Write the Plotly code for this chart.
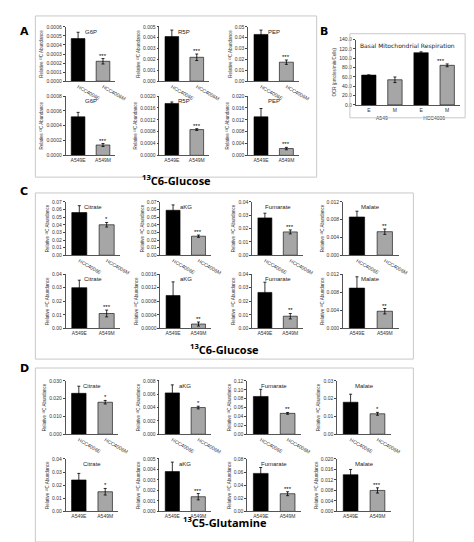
import plotly.graph_objects as go

W, H = 474, 542
cell_A549 = ["A549E", "A549M"]
cell_HCC = ["HCC4006E", "HCC4006M"]

# Panel A (13C6-Glucose)
A_names = ["G6P", "R5P", "PEP"]
A_hcc_vals = [[0.00047, 0.00022], [0.0041, 0.0022], [0.043, 0.0175]]
A_hcc_err = [[0.00007, 0.00003], [0.0006, 0.0003], [0.004, 0.002]]
A_a549_vals = [[0.00052, 0.00014], [0.00175, 0.00087], [0.013, 0.0023]]
A_a549_err = [[0.00006, 0.00002], [0.00005, 0.00003], [0.0028, 0.0004]]
A_hcc_sig = ["***", "***", "***"]
A_a549_sig = ["***", "***", "***"]

# Panel B
B_groups = ["A549", "A549", "HCC4006", "HCC4006"]
B_types = ["E", "M", "E", "M"]
B_vals = [64.0, 54.0, 112.0, 85.0]
B_err = [0.5, 6.0, 2.0, 3.0]
B_sig = ["", "", "", "***"]

# Panel C (13C6-Glucose) and D (13C5-Glutamine)
CD_names = ["Citrate", "aKG", "Fumarate", "Malate"]
C_hcc_vals = [[0.056, 0.040], [0.059, 0.025], [0.028, 0.0175], [0.0086, 0.0053]]
C_hcc_err = [[0.009, 0.003], [0.007, 0.0015], [0.0035, 0.0015], [0.0013, 0.0006]]
C_hcc_sig = ["*", "***", "***", "**"]
C_a549_vals = [[0.030, 0.011], [0.00097, 0.00013], [0.0265, 0.009], [0.0089, 0.0038]]
C_a549_err = [[0.0055, 0.0025], [0.0004, 0.00006], [0.0075, 0.002], [0.0025, 0.0006]]
C_a549_sig = ["***", "**", "**", "**"]
D_hcc_vals = [[0.023, 0.018], [0.0062, 0.0040], [0.085, 0.047], [0.018, 0.0115]]
D_hcc_err = [[0.004, 0.001], [0.0012, 0.0002], [0.016, 0.002], [0.0045, 0.0008]]
D_hcc_sig = ["*", "*", "**", "*"]
D_a549_vals = [[0.024, 0.015], [0.0038, 0.0014], [0.058, 0.027], [0.014, 0.008]]
D_a549_err = [[0.005, 0.0025], [0.0009, 0.0003], [0.009, 0.003], [0.002, 0.001]]
D_a549_sig = ["*", "***", "***", "***"]

fig = go.Figure()
layout = {}
annots = []
shapes = []
n = [0]
TF = dict(size=5, color="#333", family="Arial, Liberation Sans")
COLORS = ["black", "#a6a6a6"]


def px(x0, x1, y0, y1):
    return [x0 / W, x1 / W], [1 - y1 / H, 1 - y0 / H]


def add_panel(box, cats, vals, errs, title, ymax, dtick, fmt, sig, multicat=False, ytitle="Relative ¹³C Abundance"):
    n[0] += 1
    k = n[0]
    xs = "" if k == 1 else str(k)
    xd, yd = px(*box)
    fig.add_trace(go.Bar(
        x=cats, y=vals, width=0.55,
        marker=dict(color=COLORS * (len(vals) // 2), line=dict(color="black", width=0.6)),
        error_y=dict(type="data", array=errs, color="black", thickness=0.8, width=1.5),
        xaxis="x" + xs, yaxis="y" + xs, showlegend=False))
    layout["xaxis" + xs] = dict(domain=xd, anchor="y" + xs, showline=True, linecolor="#555", linewidth=0.8,
                                tickfont=TF, ticks="", showgrid=False, fixedrange=True)
    if multicat:
        layout["xaxis" + xs]["showdividers"] = False
    layout["yaxis" + xs] = dict(domain=yd, anchor="x" + xs, range=[0, ymax], dtick=dtick, tickformat=fmt,
                                showline=True, linecolor="#555", linewidth=0.8, ticks="outside", ticklen=2,
                                tickfont=TF, showgrid=False, zeroline=False,
                                title=dict(text=ytitle, font=dict(size=4.5, color="#333"), standoff=2))
    tf = dict(size=6, color="#222", family="Arial Black, DejaVu Sans") if multicat else dict(size=6, color="#222")
    annots.append(dict(text=title, x=0.5, y=1.0, xref="x" + xs + " domain", yref="y" + xs + " domain",
                       showarrow=False, font=tf, yanchor="top"))
    for i, s in enumerate(sig):
        if s:
            annots.append(dict(text=s, x=i if not multicat else i / (len(vals)) + 0.5 / len(vals),
                               xref=("x" + xs) if not multicat else "x" + xs + " domain",
                               y=vals[i] + errs[i], yref="y" + xs, showarrow=False, yanchor="bottom",
                               yshift=-2, font=dict(size=6, color="black")))


# Panel A
colsA = [(59, 110), (155, 206), (246, 298)]
fmtA1 = [".4f", ".3f", ".2f"]
fmtA2 = [".4f", ".4f", ".3f"]
maxA1 = [(0.0006, 0.0001), (0.005, 0.001), (0.05, 0.01)]
maxA2 = [(0.0008, 0.0002), (0.002, 0.0004), (0.02, 0.004)]
for j in range(3):
    add_panel((colsA[j][0], colsA[j][1], 16, 71), cell_HCC, A_hcc_vals[j], A_hcc_err[j], A_names[j],
              maxA1[j][0], maxA1[j][1], fmtA1[j], ["", A_hcc_sig[j]])
    add_panel((colsA[j][0], colsA[j][1], 86, 146), cell_A549, A_a549_vals[j], A_a549_err[j], A_names[j],
              maxA2[j][0], maxA2[j][1], fmtA2[j], ["", A_a549_sig[j]])

# Panel B
add_panel((356, 463, 29, 95), [B_groups, B_types], B_vals, B_err, "Basal Mitochondrial Respiration",
          140, 20, ".1f", B_sig, multicat=True, ytitle="OCR (pmoles/min/Cells)")

# Panels C and D
colsC = [(59, 115), (156, 208), (250, 302), (343, 400)]
colsD = [(59, 113), (155, 208), (245, 300), (337, 392)]
C1 = [(0.07, 0.01, ".2f"), (0.07, 0.01, ".2f"), (0.04, 0.01, ".2f"), (0.012, 0.004, ".3f")]
C2 = [(0.04, 0.01, ".2f"), (0.0016, 0.0004, ".4f"), (0.04, 0.01, ".2f"), (0.012, 0.004, ".3f")]
D1 = [(0.03, 0.01, ".3f"), (0.008, 0.002, ".3f"), (0.12, 0.02, ".2f"), (0.03, 0.01, ".2f")]
D2 = [(0.04, 0.01, ".2f"), (0.005, 0.001, ".3f"), (0.08, 0.02, ".2f"), (0.02, 0.004, ".3f")]
for j in range(4):
    add_panel((colsC[j][0], colsC[j][1], 193, 247), cell_HCC, C_hcc_vals[j], C_hcc_err[j], CD_names[j],
              *C1[j], ["", C_hcc_sig[j]])
    add_panel((colsC[j][0], colsC[j][1], 266, 321), cell_A549, C_a549_vals[j], C_a549_err[j], CD_names[j],
              *C2[j], ["", C_a549_sig[j]])
    add_panel((colsD[j][0], colsD[j][1], 374, 428), cell_HCC, D_hcc_vals[j], D_hcc_err[j], CD_names[j],
              *D1[j], ["", D_hcc_sig[j]])
    add_panel((colsD[j][0], colsD[j][1], 453, 506), cell_A549, D_a549_vals[j], D_a549_err[j], CD_names[j],
              *D2[j], ["", D_a549_sig[j]])

# Boxes
for (x0, y0, x1, y1) in [(28, 5, 316, 168), (350, 23, 468, 108), (28, 184, 415, 352), (28, 361, 415, 537)]:
    shapes.append(dict(type="rect", xref="paper", yref="paper", x0=x0 / W, x1=x1 / W,
                       y0=1 - y1 / H, y1=1 - y0 / H, line=dict(color="#c8c8c8", width=1)))

bold = dict(size=11, color="black", family="Arial Black, DejaVu Sans")
for lab, x, y in [("A", 10, 12), ("B", 330, 12), ("C", 10, 183), ("D", 10, 370)]:
    annots.append(dict(text="<b>%s</b>" % lab, x=x / W, y=1 - y / H, xref="paper", yref="paper",
                       showarrow=False, font=bold))
tfont = dict(size=11, color="black", family="Open Sans, DejaVu Sans")
for txt, x, y in [("<b><sup>13</sup>C6-Glucose</b>", 172, 161), ("<b><sup>13</sup>C6-Glucose</b>", 222, 342),
                  ("<b><sup>13</sup>C5-Glutamine</b>", 222, 527)]:
    annots.append(dict(text=txt, x=x / W, y=1 - y / H, xref="paper", yref="paper", showarrow=False, font=tfont))

fig.update_layout(width=W, height=H, margin=dict(l=0, r=0, t=0, b=0), plot_bgcolor="white",
                  paper_bgcolor="white", annotations=annots, shapes=shapes, bargap=0.4,
                  font=dict(family="Arial, Liberation Sans"), **layout)
fig.write_html("out.html")
